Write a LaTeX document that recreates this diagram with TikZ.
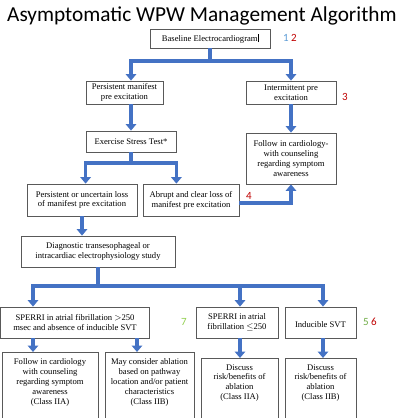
\documentclass[tikz,border=0pt]{standalone}
\usepackage{fontspec}
\setmainfont{Liberation Serif}
\newfontfamily\titlefont{Carlito}
\usetikzlibrary{arrows.meta, positioning}
\definecolor{flowblue}{RGB}{68,114,196}
\definecolor{numred}{RGB}{192,0,0}
\definecolor{numblue}{RGB}{91,155,213}
\definecolor{numgreen}{RGB}{112,173,71}
\definecolor{numlime}{RGB}{146,208,80}

\begin{document}
\begin{tikzpicture}[
  x=1pt, y=-1pt,
  box/.style={draw=black!65, line width=0.8pt, align=center, inner sep=2pt, font=\fontsize{8.6}{9.8}\selectfont},
  leaf/.style={box, anchor=north, inner ysep=6.5pt, text depth=48pt, minimum height=0pt},
  num/.style={font=\titlefont\fontsize{11}{11}\selectfont},
  trunk/.style={draw=flowblue, line width=3.6pt},
  arr/.style={trunk, -{Triangle[length=6.5pt, width=10.5pt]}}
]
\fill[white] (0,0) rectangle (412,418);
\useasboundingbox (0,0) rectangle (412,418);

\node[anchor=base west, inner sep=0pt, font=\titlefont\fontsize{21.3}{22}\selectfont] (title) at (7,21.5) {Asymptomatic WPW Management Algorithm};

% top of the tree
\node[box, minimum width=120pt, minimum height=19pt] (base) at (210,38.5) {Baseline Electrocardiogram\rule[-1pt]{0.5pt}{8pt}};
\node[num] (n12) at (290,38) {\textcolor{numblue}{1} \textcolor{numred}{2}};
\node[box, minimum width=77pt, minimum height=23pt] (pers) at (124.5,92.5) {Persistent manifest\\pre excitation};
\node[box, minimum width=90pt, minimum height=23pt] (inter) at (291,92.5) {Intermittent pre\\excitation};
\node[num, text=numred] (n3) at (345,97) {3};
\node[box, minimum width=90pt, minimum height=21pt] (exer) at (131,141.5) {Exercise Stress Test*};
\node[box, minimum width=90pt, minimum height=51pt] (follow1) at (291,158.5) {Follow in cardiology-\\with counseling\\regarding symptom\\awareness};
\node[box, minimum width=110pt, minimum height=32pt] (uncert) at (82,200) {Persistent or uncertain loss\\of manifest pre excitation};
\node[box, minimum width=96pt, minimum height=32pt] (abrupt) at (191,200) {Abrupt and clear loss of\\manifest pre excitation};
\node[num, text=numred] (n4) at (249,196) {4};
\node[box, minimum width=154pt, minimum height=31pt] (diag) at (98,251.5) {Diagnostic transesophageal or\\intracardiac electrophysiology study};

% EP study results
\node[box, minimum width=149pt, minimum height=31pt] (sperri1) at (75,322.5) {SPERRI in atrial fibrillation $>$250\\msec and absence of inducible SVT};
\node[num, text=numlime] (n7) at (184,322) {7};
\node[box, minimum width=82pt, minimum height=31pt] (sperri2) at (237,322.5) {SPERRI in atrial\\fibrillation $\leq$250};
\node[box, minimum width=71pt, minimum height=31pt] (induc) at (320.5,322.5) {~\\Inducible SVT};
\node[num] (n56) at (370,322) {\textcolor{numgreen}{5} \textcolor{numred}{6}};

% recommendations
\node[leaf, minimum width=96pt] (follow2) at (50,352) {Follow in cardiology\\with counseling\\regarding symptom\\awareness\\(Class IIA)};
\node[leaf, minimum width=89pt] (maycons) at (149.5,352) {May consider ablation\\based on pathway\\location and/or patient\\characteristics\\(Class IIB)};
\node[leaf, minimum width=77pt, inner ysep=6pt, text depth=44pt] (disc1) at (239.5,358) {Discuss\\risk/benefits of\\ablation\\(Class IIA)};
\node[leaf, minimum width=71pt, inner ysep=6pt, text depth=44pt] (disc2) at (320.5,358) {Discuss\\risk/benefits of\\ablation\\(Class IIB)};

\coordinate (fork1) at (210,61);
\coordinate (fork2) at (131,163);
\coordinate (fork3) at (98,286);

\draw[trunk] (base.south) -- (fork1);
\draw[arr] (fork1) -| (exer.north |- pers.north);
\draw[arr] (fork1) -| (inter.north);
\draw[arr] (exer.north |- pers.south) -- (exer.north);
\draw[arr] (inter) -- (follow1);
\draw[trunk] (exer.south) -- (fork2);
\draw[arr] (fork2) -| (exer.south west |- uncert.north);
\draw[arr] (fork2) -| (exer.south east |- abrupt.north);
\draw[arr] ([yshift=-3pt]abrupt.east) -| (follow1.south);
\draw[arr] (uncert.south) -- (uncert.south |- diag.north);
\draw[trunk] (diag.south) -- (fork3);
\draw[arr] (fork3) -| ([xshift=-42pt]sperri1.north);
\draw[arr] (fork3) -| ([xshift=3pt]sperri2.north);
\draw[arr] (fork3) -| ([xshift=2.5pt]induc.north);
\draw[arr] ([xshift=-42pt]sperri1.south) -- ([xshift=-42pt]sperri1.south |- follow2.north);
\draw[arr] ([xshift=62pt]sperri1.south) -- ([xshift=62pt]sperri1.south |- maycons.north);
\draw[arr] ([xshift=3pt]sperri2.south) -- ([xshift=3pt]sperri2.south |- disc1.north);
\draw[arr] ([xshift=2.5pt]induc.south) -- ([xshift=2.5pt]induc.south |- disc2.north);
\end{tikzpicture}
\end{document}
